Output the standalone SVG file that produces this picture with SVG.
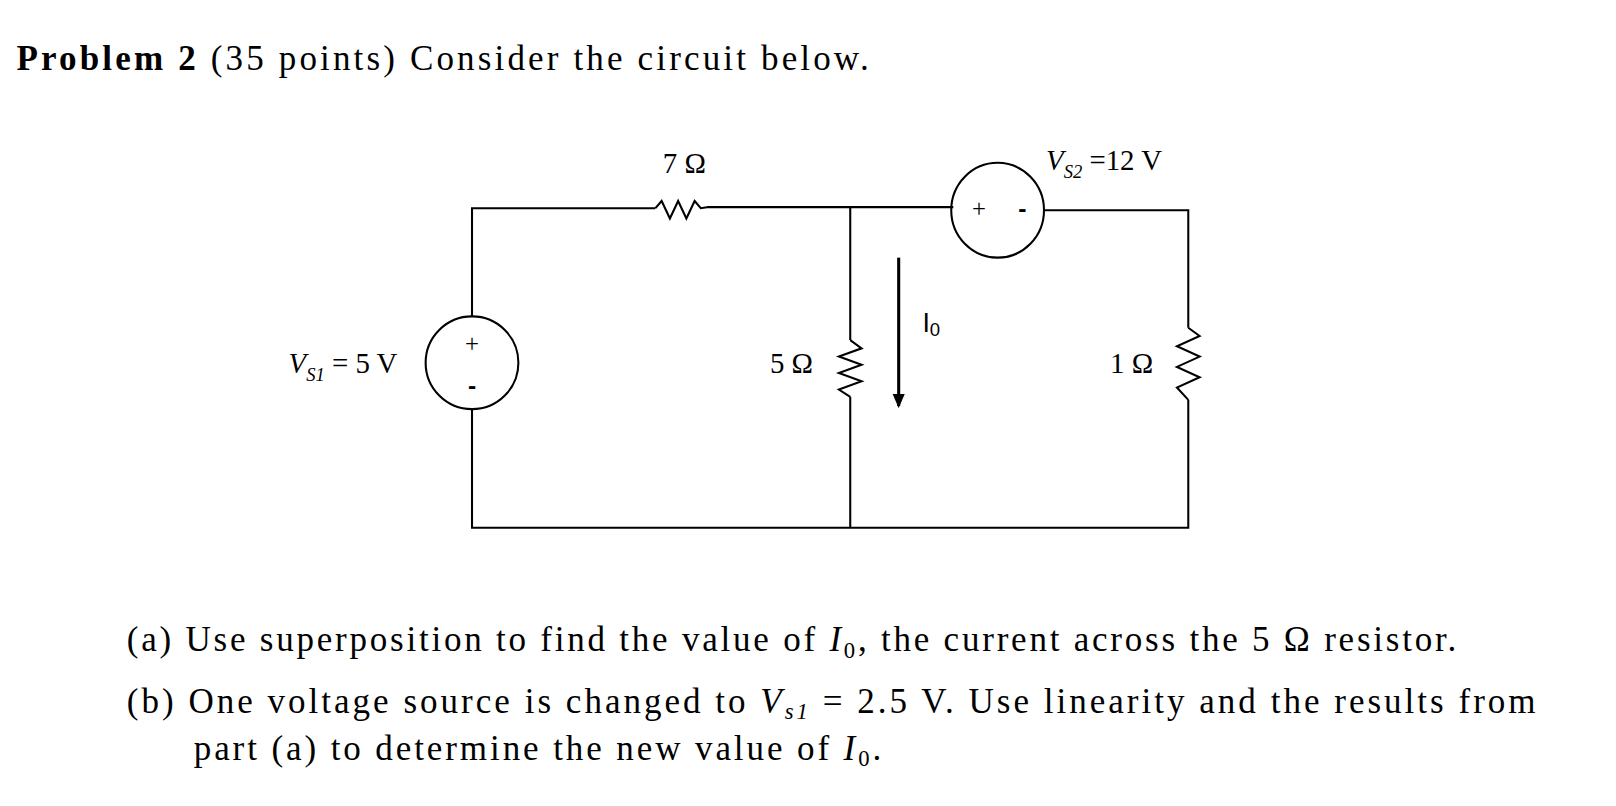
<svg xmlns="http://www.w3.org/2000/svg" width="1616" height="806" viewBox="0 0 1616 806">
<style>
.w{fill:none;stroke:#000;stroke-width:2}
.t{font-family:"Liberation Serif",serif;fill:#000}
.s{font-family:"Liberation Sans",sans-serif;fill:#000}
</style>
<defs><marker id="ah" markerWidth="14" markerHeight="12" refX="12" refY="6" orient="auto" markerUnits="userSpaceOnUse"><path d="M0,0 L14,6 L0,12 Z"/></marker></defs>
<rect width="1616" height="806" fill="#fff"/>
<g transform="scale(1.0306)">
<text class="t" x="16" y="68" font-size="34" textLength="827" lengthAdjust="spacing"><tspan font-weight="bold">Problem 2</tspan>  (35 points) Consider the circuit below.</text>
<g id="connectors">
<path class="w" d="M458,307 V202 H636 M686,201 H925 M825,202 V330 M825,385 V512 M1013,204 H1153 V318 M1153,388 V512 H458 V397"/>
</g>
<g id="R7"><path class="w" d="M636,202 L642,195 L650,212 L658,195 L666,212 L674,195 L680,202 L686,201"/><text class="t" x="664" y="168" font-size="28" text-anchor="middle">7 Ω</text></g>
<g id="R5"><path class="w" d="M825,330 L836,338 L814,346 L836,354 L814,362 L836,370 L814,378 L825,385"/><text class="t" x="768" y="362" font-size="28" text-anchor="middle">5 Ω</text></g>
<g id="R1"><path class="w" d="M1153,318 L1164,326 L1142,336 L1164,346 L1142,356 L1164,366 L1142,376 L1153,388"/><text class="t" x="1098" y="362" font-size="28" text-anchor="middle">1 Ω</text></g>
<g id="VS1"><ellipse class="w" cx="458" cy="352" rx="45" ry="45"/><text class="t" x="458" y="342" font-size="24" text-anchor="middle">+</text><text class="s" x="458" y="382" font-size="24" font-weight="bold" text-anchor="middle">-</text>
<text class="t" x="280" y="362" font-size="28"><tspan font-style="italic">V</tspan><tspan font-size="18" font-style="italic" dy="8">S1</tspan><tspan dy="-8"> = 5 V</tspan></text></g>
<g id="VS2"><ellipse class="w" cx="968" cy="204" rx="45" ry="46"/><text class="t" x="950" y="211" font-size="24" text-anchor="middle">+</text><text class="s" x="992" y="211" font-size="24" font-weight="bold" text-anchor="middle">-</text>
<text class="t" x="1015" y="165" font-size="28"><tspan font-style="italic">V</tspan><tspan font-size="18" font-style="italic" dy="8">S2</tspan><tspan dy="-8"> =12 V</tspan></text></g>
<g id="I0"><line x1="872" y1="250" x2="872" y2="394" stroke="#000" stroke-width="3" marker-end="url(#ah)"/><text class="s" x="895" y="322" font-size="26">I<tspan font-size="18" dy="4">0</tspan></text></g>
<text class="t" x="123" y="632" font-size="34" textLength="1290" lengthAdjust="spacing">(a)  Use superposition to find the value of <tspan font-style="italic">I</tspan><tspan font-size="22" dy="6">0</tspan><tspan dy="-6">, the current across the 5 Ω resistor.</tspan></text>
<text class="t" x="123" y="692" font-size="34" textLength="1367" lengthAdjust="spacing">(b)  One voltage source is changed to <tspan font-style="italic">V</tspan><tspan font-size="22" font-style="italic" dy="6">s1</tspan><tspan dy="-6"> = 2.5 V. Use linearity and the results from</tspan></text>
<text class="t" x="188" y="737" font-size="34" textLength="667" lengthAdjust="spacing">part (a) to determine the new value of <tspan font-style="italic">I</tspan><tspan font-size="22" dy="6">0</tspan><tspan dy="-6">.</tspan></text>
</g>
</svg>
